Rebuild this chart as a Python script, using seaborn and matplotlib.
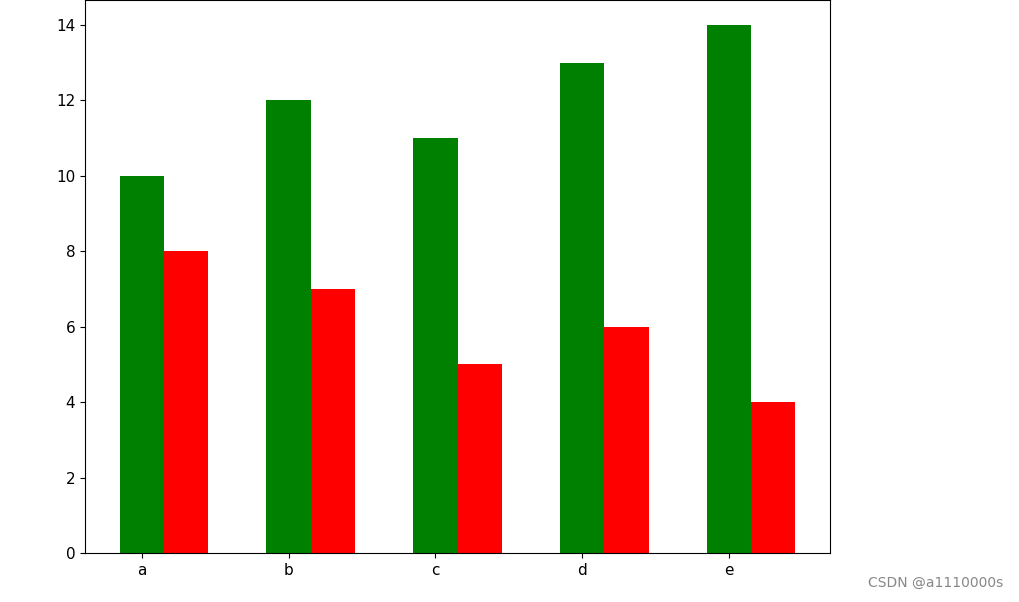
import matplotlib
matplotlib.use("Agg")
import matplotlib.pyplot as plt
import seaborn as sns
import pandas as pd

categories = ["a", "b", "c", "d", "e"]
green_vals = [10, 12, 11, 13, 14]
red_vals = [8, 7, 5, 6, 4]

df = pd.DataFrame({
    "cat": categories * 2,
    "val": green_vals + red_vals,
    "series": ["g"] * 5 + ["r"] * 5,
})

fig = plt.figure(figsize=(10.19, 6.02), dpi=100)
ax = fig.add_axes([85/1019, 1-553/602, (830-85)/1019, 553/602])
sns.barplot(data=df, x="cat", y="val", hue="series", palette=["green", "red"],
            width=0.6, saturation=1, ax=ax, legend=False)
for p in ax.patches:
    p.set_linewidth(0)
ax.set_xticks([i - 0.15 for i in range(5)])
ax.set_xticklabels(categories)
ax.set_xlim(-0.535, 4.535)
ax.set_ylim(0, 14.66)
ax.set_xlabel("")
ax.set_ylabel("")
ax.tick_params(labelsize=11)
fig.text(0.985, 0.02, "CSDN @a1110000s", ha="right", va="bottom", fontsize=10, color="#888888")
fig.savefig("out.png", dpi=100)
